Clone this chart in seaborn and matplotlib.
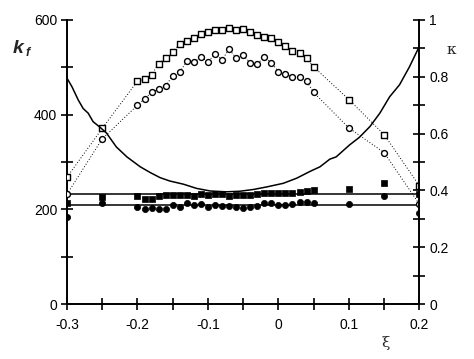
import numpy as np
import pandas as pd
import matplotlib
matplotlib.use("Agg")
import matplotlib.pyplot as plt
import seaborn as sns

sns.set_style("ticks")
plt.rcParams['font.family'] = ['Liberation Sans', 'DejaVu Sans']
plt.rcParams['axes.unicode_minus'] = False

# ---------------- data ----------------
xi_dense = [round(-0.20 + 0.01 * i, 2) for i in range(26)]
xi_all = [-0.30, -0.25] + xi_dense + [0.10, 0.15, 0.20]

open_sq = [268, 371,
           471, 475, 484, 508, 519, 533, 549, 556, 563, 570, 575, 579, 579, 584,
           579, 581, 575, 568, 565, 561, 553, 545, 535, 531, 520, 501,
           432, 358, 250]
open_ci = [232, 349,
           420, 433, 447, 454, 461, 482, 490, 513, 511, 521, 512, 528, 516, 538,
           520, 525, 510, 507, 522, 510, 491, 486, 480, 480, 471, 447,
           372, 320, 211]
fill_sq = [214, 227,
           228, 222, 222, 228, 230, 230, 230, 230, 229, 232, 230, 232, 232, 229,
           230, 230, 230, 232, 234, 234, 234, 234, 234, 237, 239, 241,
           243, 255, 232]
fill_ci = [184, 213,
           204, 201, 202, 200, 201, 209, 204, 214, 209, 211, 204, 209, 207, 207,
           204, 203, 204, 206, 214, 213, 209, 209, 211, 216, 216, 214,
           211, 229, 192]
mean_upper = 232
mean_lower = 209

kappa_x = [-0.300, -0.293, -0.284, -0.277, -0.270, -0.263, -0.253, -0.244, -0.230,
           -0.215, -0.196, -0.182, -0.168, -0.154, -0.135, -0.116, -0.097, -0.074,
           -0.055, -0.036, -0.017, 0.007, 0.026, 0.045, 0.059, 0.073, 0.082, 0.101,
           0.115, 0.130, 0.144, 0.158, 0.172, 0.186, 0.200]
kappa_y = [0.795, 0.765, 0.718, 0.688, 0.672, 0.642, 0.622, 0.602, 0.553,
           0.518, 0.483, 0.463, 0.445, 0.433, 0.422, 0.407, 0.398, 0.395,
           0.397, 0.403, 0.412, 0.425, 0.443, 0.467, 0.483, 0.510, 0.518, 0.560,
           0.587, 0.625, 0.672, 0.730, 0.772, 0.835, 0.907]

x_major = [-0.3, -0.2, -0.1, 0.0, 0.1, 0.2]
x_minor = [-0.25, -0.15, -0.05, 0.05, 0.15]
x_labels = ["-0.3", "-0.2", "-0.1", "0", "0.1", "0.2"]
kf_major = [0, 200, 400, 600]
kf_minor = [100, 300, 500]
kf_labels = ["0", "200", "400", "600"]
k_major = [0, 0.2, 0.4, 0.6, 0.8, 1.0]
k_minor = [0.1, 0.3, 0.5, 0.7, 0.9]
k_labels = ["0", "0.2", "0.4", "0.6", "0.8", "1"]

df = pd.DataFrame({"xi": xi_all, "osq": open_sq, "oci": open_ci,
                   "fsq": fill_sq, "fci": fill_ci})
dk = pd.DataFrame({"xi": kappa_x, "kappa": kappa_y})

# ---------------- figure ----------------
fig = plt.figure(figsize=(4.74, 3.59), dpi=100)
ax = fig.add_axes([0.1414, 0.1532, 0.7432, 0.7911])
ax2 = ax.twinx()

dot = (0, (1, 2.0))
sns.lineplot(data=df, x="xi", y="osq", ax=ax, color="black", lw=0.7,
             linestyle=dot, zorder=2)
sns.lineplot(data=df, x="xi", y="oci", ax=ax, color="black", lw=0.7,
             linestyle=dot, zorder=2)

ax.axhline(mean_upper, color="black", lw=1.1, zorder=2)
ax.axhline(mean_lower, color="black", lw=1.1, zorder=2)

sns.scatterplot(data=df, x="xi", y="osq", ax=ax, marker="s", s=22,
                facecolor="white", edgecolor="black", linewidth=1.0, zorder=4)
sns.scatterplot(data=df, x="xi", y="oci", ax=ax, marker="o", s=18,
                facecolor="white", edgecolor="black", linewidth=1.0, zorder=4)
sns.scatterplot(data=df, x="xi", y="fsq", ax=ax, marker="s", s=22,
                color="black", edgecolor="black", linewidth=0.5, zorder=4)
sns.scatterplot(data=df, x="xi", y="fci", ax=ax, marker="o", s=20,
                color="black", edgecolor="black", linewidth=0.5, zorder=4)

sns.lineplot(data=dk, x="xi", y="kappa", ax=ax2, color="black", lw=1.1, zorder=3)

# ---------------- axes styling ----------------
for a in (ax, ax2):
    a.set_xlabel("")
    a.set_ylabel("")
    a.spines["top"].set_visible(False)
    for s in ("left", "right", "bottom"):
        a.spines[s].set_linewidth(1.4)
        a.spines[s].set_color("black")
ax.spines["right"].set_visible(False)
ax2.spines["left"].set_visible(False)
ax2.spines["bottom"].set_visible(False)

ax.set_xticks(x_major)
ax.set_xticks(x_minor, minor=True)
ax.set_xticklabels(x_labels)
ax.set_yticks(kf_major)
ax.set_yticks(kf_minor, minor=True)
ax.set_yticklabels(kf_labels)
ax2.set_yticks(k_major)
ax2.set_yticks(k_minor, minor=True)
ax2.set_yticklabels(k_labels)

ax.set_xlim(-0.3, 0.2)
ax.set_ylim(0, 600)
ax2.set_ylim(0, 1)

for a in (ax, ax2):
    a.tick_params(which="both", direction="inout", length=8, width=1.2,
                  colors="black", labelsize=10)
ax.tick_params(axis="x", which="both", pad=6)
ax.tick_params(axis="y", which="both", pad=3)
ax2.tick_params(axis="y", which="both", pad=3)

# axis titles
fig.text(0.026, 0.866, "k", fontsize=14, fontweight="bold", style="italic",
         ha="left", va="center")
fig.text(0.054, 0.852, "f", fontsize=9, fontweight="bold", style="italic",
         ha="left", va="center")
fig.text(0.951, 0.861, "κ", fontsize=11, ha="center", va="center",
         family=["DejaVu Serif"])
fig.text(0.814, 0.045, "ξ", fontsize=11, ha="center", va="center",
         family=["DejaVu Serif"])

fig.savefig("out.png", dpi=100)
